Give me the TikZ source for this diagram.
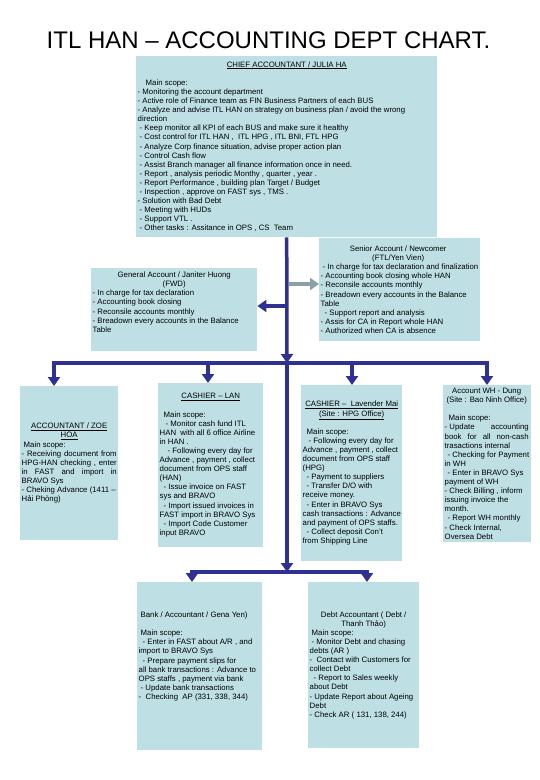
\documentclass[tikz,border=0pt]{standalone}
\usepackage{fontspec}
\setmainfont{Liberation Sans}
\usetikzlibrary{arrows.meta,positioning,calc}
\definecolor{cardblue}{RGB}{190,224,229}
\definecolor{linkblue}{RGB}{46,49,146}
\definecolor{tapgray}{RGB}{140,160,168}
\newcommand{\cardwd}{100pt}
\newcommand{\cardfont}{\fontsize{7.8}{9.1}\selectfont}
\newcommand{\ctrline}[1]{\makebox[\dimexpr\cardwd-3pt\relax][c]{#1}}
\newcommand{\fullline}[1]{\makebox[\dimexpr\cardwd-3pt\relax][s]{#1}}
\newcommand{\leftrow}[1]{\makebox[\dimexpr\cardwd-3pt\relax][l]{#1}}
\tikzset{card/.style={fill=cardblue,anchor=north west,inner xsep=1.5pt,inner ysep=0pt,align=left,font=\cardfont,minimum width=#1,/utils/exec={\gdef\cardwd{#1}}},
headline/.style={anchor=base,inner sep=0pt,font=\fontsize{24}{28}\selectfont},
flow/.style={-{Triangle[length=9pt,width=12pt]},line width=3.5pt,draw=linkblue},
bar/.style={line width=3.5pt,draw=linkblue,line cap=rect},
tap/.style={-{Triangle[length=9pt,width=12pt]},line width=3.5pt,draw=tapgray}}

\begin{document}
\begin{tikzpicture}[x=1pt,y=-1pt]
\useasboundingbox (0,0) rectangle (540,780);
\node[headline] (title) at (268.5,48) {ITL HAN – ACCOUNTING DEPT CHART.};
% chief accountant
\node[card=301pt,minimum height=181pt] (chief) at (136,56) {\ctrline{\underline{CHIEF ACCOUNTANT / JULIA HA}}\\
\ \\
\hspace*{8pt}Main scope:\\
- Monitoring the account department\\
- Active role of Finance team as FIN Business Partners of each BUS\\
- Analyze and advise ITL HAN on strategy on business plan / avoid the wrong\\
direction\\
\hspace*{2pt}- Keep monitor all KPI of each BUS and make sure it healthy\\
\hspace*{2pt}- Cost control for ITL HAN , \ ITL HPG , ITL BNI, FTL HPG\\
\hspace*{2pt}- Analyze Corp finance situation, advise proper action plan\\
\hspace*{2pt}- Control Cash flow\\
\hspace*{2pt}- Assist Branch manager all finance information once in need.\\
\hspace*{2pt}- Report , analysis periodic Monthy , quarter , year .\\
\hspace*{2pt}- Report Performance , building plan Target / Budget\\
\hspace*{2pt}- Inspection , approve on FAST sys , TMS .\\
- Solution with Bad Debt\\
\hspace*{2pt}- Meeting with HUDs\\
\hspace*{2pt}- Support VTL .\\
\hspace*{2pt}- Other tasks : Assitance in OPS , CS \ Team};
% second row
\node[card=166pt,minimum height=83pt] (general) at (91,268) {\ctrline{General Account / Janiter Huong}\\
\ctrline{(FWD)}\\
- In charge for tax declaration\\
- Accounting book closing\\
- Reconsile accounts monthly\\
- Breadown every accounts in the Balance\\
Table\\[6pt]\ };
\node[card=158pt,minimum height=103pt] (senior) at (319,238) {\ctrline{Senior Account / Newcomer}\\
\ctrline{(FTL/Yen Vien)}\\
\hspace*{2pt}- In charge for tax declaration and finalization\\
- Accounting book closing whole HAN\\
- Reconsile accounts monthly\\
- Breadown every accounts in the Balance\\
Table\\
\hspace*{4pt}- Support report and analysis\\
- Assis for CA in Report whole HAN\\
- Authorized when CA is absence};
% staff row
\node[card=98pt,minimum height=154pt] (zoe) at (20,386) {\ctrline{\underline{ACCOUNTANT / ZOE}}\\
\ctrline{\underline{HOA}}\\
\hspace*{2pt}Main scope:\\
\fullline{- Receiving document from}\\
\fullline{HPG-HAN checking , enter}\\
\fullline{in FAST and import in}\\
BRAVO Sys\\
- Cheking Advance (1411 –\\
Hải Phòng)};
\node[card=105pt,minimum height=164pt] (lan) at (158,383) {\ctrline{\underline{CASHIER – LAN}}\\
\ \\
\hspace*{4pt}Main scope:\\
\hspace*{6pt}- Monitor cash fund ITL\\
HAN \ with all 6 office Airline\\
in HAN .\\
\hspace*{8pt}- Following every day for\\
Advance , payment , collect\\
document from OPS staff\\
(HAN)\\
\hspace*{4pt}- Issue invoice on FAST\\
sys and BRAVO\\
\hspace*{4pt}- Import issued invoices in\\
FAST import in BRAVO Sys\\
\hspace*{4pt}- Import Code Customer\\
input BRAVO};
\node[card=101pt,minimum height=176pt] (mai) at (301,385) {\ctrline{\underline{CASHIER – \ Lavender Mai}}\\
\ctrline{\underline{(Site : HPG Office)}}\\
\ \\
\hspace*{4pt}Main scope:\\
\hspace*{6pt}- Following every day for\\
Advance , payment , collect\\
document from OPS staff\\
(HPG)\\
\hspace*{4pt}- Payment to suppliers\\
\hspace*{4pt}- Transfer D/O with\\
receive money.\\
\hspace*{4pt}- Enter in BRAVO Sys\\
cash transactions : Advance\\
and payment of OPS staffs.\\
\hspace*{4pt}- Collect deposit Con't\\
from Shipping Line};
\node[card=87pt,minimum height=157pt] (wh) at (443,385) {\ctrline{Account WH - Dung}\\
\ctrline{(Site : Bao Ninh Office)}\\
\ \\
\hspace*{4pt}Main scope:\\
\fullline{- Update \hfill accounting}\\
\fullline{book for all non-cash}\\
trasactions internal\\
\hspace*{3pt}- Checking for Payment\\
in WH\\
\hspace*{3pt}- Enter in BRAVO Sys\\
payment of WH\\
- Check Billing , inform\\
issuing invoice the\\
month.\\
\hspace*{3pt}- Report WH monthly\\
- Check Internal,\\
Oversea Debt};
% bottom row
\node[card=125pt,minimum height=168pt] (bank) at (137,582) {\leftrow{\hspace*{2pt}Bank / Accountant / Gena Yen)}\\
\ \\
\hspace*{2pt}Main scope:\\
\hspace*{4pt}- Enter in FAST about A/R , and\\
import to BRAVO Sys\\
\hspace*{4pt}- Prepare payment slips for\\
all bank transactions : Advance to\\
OPS staffs , payment via bank\\
\hspace*{2pt}- Update bank transactions\\
- \ Checking \ AP (331, 338, 344)\\[12pt]\ };
\node[card=111pt,minimum height=166pt] (debt) at (308,582) {\ctrline{Debt Accountant ( Debt /}\\
\ctrline{Thanh Thảo)}\\
\hspace*{2pt}Main scope:\\
\hspace*{2pt}- Monitor Debt and chasing\\
debts (AR )\\
- \ Contact with Customers for\\
collect Debt\\
\hspace*{4pt}- Report to Sales weekly\\
about Debt\\
- Update Report about Ageing\\
Debt\\
- Check AR ( 131, 138, 244)};
% connectors
\coordinate (hub) at (287,363);
\coordinate (barW) at (54,363);
\coordinate (barE) at (487,363);
\coordinate (lanTap) at (208,363);
\coordinate (maiTap) at (352,363);
\coordinate (lowhub) at (287,572);
\coordinate (lowW) at (192,572);
\coordinate (lowE) at (367,572);
\coordinate (genTap) at (287,306);
\coordinate (srTap) at (289,284);
\draw[tap] (srTap) -- (srTap -| senior.west);
\draw[flow] (genTap) -- (genTap -| general.east);
\draw[flow] (chief.south) -- (hub);
\draw[bar] (barW) -- (barE);
\draw[flow] (hub) -- (lowhub);
\draw[flow] (barW) -- (barW |- zoe.north);
\draw[flow] (lanTap) -- (lanTap |- lan.north);
\draw[flow] (maiTap) -- (maiTap |- mai.north);
\draw[flow] (barE) -- (barE |- wh.north);
\draw[bar] (lowW) -- (lowE);
\draw[flow] (lowW) -- (lowW |- bank.north);
\draw[flow] (lowE) -- (lowE |- debt.north);
\end{tikzpicture}
\end{document}
